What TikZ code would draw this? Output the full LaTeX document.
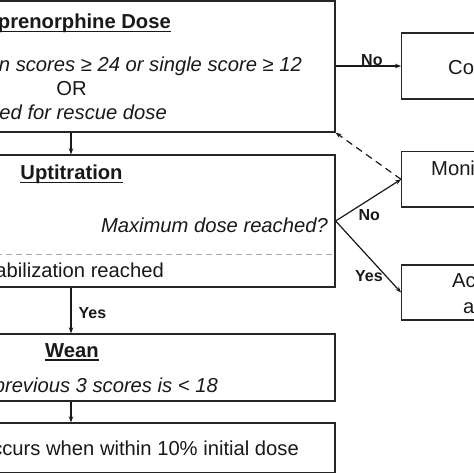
\documentclass[tikz,border=0pt]{standalone}
\usepackage{fontspec}
\setmainfont{Liberation Sans}
\usetikzlibrary{arrows.meta}
\newcommand\myul[1]{\setbox0\hbox{#1}\rlap{\rule[-3.8pt]{\wd0}{1.6pt}}\box0}
\begin{document}
\begin{tikzpicture}[x=1pt,y=-1pt,
  box/.style={draw=black!85,line width=1.3pt,rectangle,inner sep=0pt},
  txt/.style={inner sep=0pt,text=black!90,font=\fontsize{20.2}{24}\selectfont},
  lbl/.style={inner sep=0pt,text=black!90,font=\fontsize{16}{18}\selectfont\bfseries},
  arr/.style={line width=1.2pt,draw=black!90,-{Stealth[length=6pt,width=4.5pt]}},
  darr/.style={arr,dash pattern=on 7pt off 5pt}]
\useasboundingbox (0,0) rectangle (474,474);
\clip (0,0) rectangle (474,474);
\fill[white] (0,0) rectangle (474,474);
% left column boxes
\node[box,minimum width=528pt,minimum height=131pt] (b1) at (71,66.5) {};
\node[box,minimum width=528pt,minimum height=132pt] (b2) at (71,221) {};
\node[box,minimum width=528pt,minimum height=67pt] (b3) at (71,367.5) {};
\node[box,minimum width=528pt,minimum height=49.5pt] (b4) at (71,447.75) {};
% right column boxes
\node[box,minimum width=198pt,minimum height=66pt] (r1) at (500.7,66) {};
\node[box,minimum width=198pt,minimum height=55.3pt] (r2) at (500.7,179.35) {};
\node[box,minimum width=198pt,minimum height=55pt] (r3) at (500.7,292.5) {};
% separator inside uptitration box
\draw[draw=black!35,line width=0.9pt,dash pattern=on 6pt off 4pt] (b2.west |- 0,254) -- (b2.east |- 0,254);
% texts in b1
\node[txt,anchor=base east] (t1) at (171,28.3) {\bfseries\myul{prenorphine Dose}};
\node[txt,anchor=base east] (t2) at (302,71) {\itshape n scores ≥ 24 or single score ≥ 12};
\node[txt,anchor=base] (t3) at (71.5,95.3) {OR};
\node[txt,anchor=base east] (t4) at (167,119) {\itshape ed for rescue dose};
% texts in b2
\node[txt,anchor=base] (t5) at (71.5,179.5) {\bfseries\myul{Uptitration}};
\node[txt,anchor=base east] (t6) at (328,232) {\itshape Maximum dose reached?};
\node[txt,anchor=base east] (t7) at (164,277.5) {abilization reached};
% texts in b3
\node[txt,anchor=base] (t8) at (72,357) {\bfseries\myul{Wean}};
\node[txt,anchor=base east] (t9) at (218,392.5) {\itshape previous 3 scores is < 18};
% text in b4
\node[txt,anchor=base east] (t10) at (299,455.5) {ccurs when within 10\% initial dose};
% texts in right boxes
\node[txt,anchor=base west] (t11) at (448,74) {Co};
\node[txt,anchor=base west] (t12) at (431,175) {Moni};
\node[txt,anchor=base west] (t13) at (452,287.7) {Ac};
\node[txt,anchor=base west] (t14) at (463,313.3) {a};
% connectors
\coordinate (v) at (b2.east);
\draw[arr] (b1.south) -- (b2.north);
\draw[arr] (b2.south) -- (b3.north);
\draw[arr] (b3.south) -- (b4.north);
\draw[arr] (b1.east |- r1.west) -- (r1.west);
\draw[arr] (v) -- (r2.west);
\draw[arr] (v) -- (r3.west);
\draw[darr] (r2.west) -- (b1.south east);
% connector labels
\node[lbl,anchor=base west] (l1) at (361,65.7) {No};
\node[lbl,anchor=base west] (l2) at (358.3,220.7) {No};
\node[lbl,anchor=base west] (l3) at (355,281.7) {Yes};
\node[lbl,anchor=base west] (l4) at (78.5,318) {Yes};
\end{tikzpicture}
\end{document}
